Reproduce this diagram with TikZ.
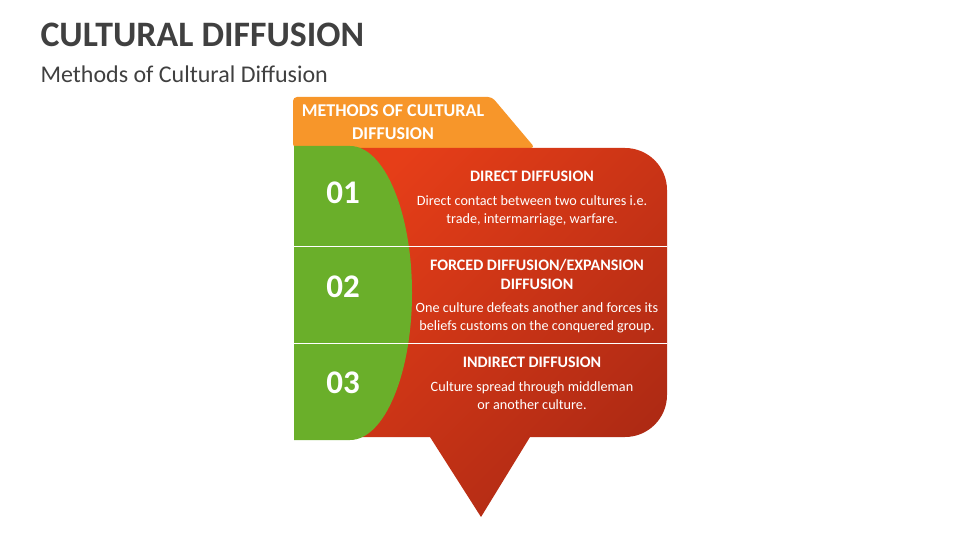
\documentclass[tikz,border=0pt]{standalone}
\usepackage{fontspec}
\setmainfont{Carlito}
\begin{document}
\begin{tikzpicture}[x=1pt,y=-1pt,
  hd/.style={text=white,font=\bfseries\fontsize{16}{19}\selectfont,align=center},
  bd/.style={text=white,font=\fontsize{14.2}{18}\selectfont,align=center},
  num/.style={text=white,font=\bfseries\fontsize{33}{35}\selectfont}]
\useasboundingbox (0,0) rectangle (960,540);
\definecolor{gr}{HTML}{6AAF2A}
\definecolor{rd}{HTML}{E63E18}
\definecolor{dr}{HTML}{AE2A14}
\definecolor{og}{HTML}{F7962A}
\node[anchor=west,text=black!75,font=\bfseries\fontsize{35.8}{38}\selectfont] (t) at (37,35) {CULTURAL DIFFUSION};
\node[anchor=west,text=black!75,font=\fontsize{24}{26}\selectfont] (s) at (37,74) {Methods of Cultural Diffusion};
% orange tab
\fill[og,rounded corners=4] (293,148) -- (293,97) -- (492,97) -- (535,148) -- cycle;
\node[text=white,font=\bfseries\fontsize{18}{23}\selectfont,align=center] (tab) at (393,122) {METHODS OF CULTURAL\\DIFFUSION};
% red shape
\shade[left color=rd,right color=dr,shading angle=45]
  (300,148) -- (625,148) arc[start angle=-90,end angle=0,radius=42] -- (667,395)
  arc[start angle=0,end angle=90,radius=42] -- (530,437) -- (481,517) -- (430,437) -- (300,437) -- cycle;
% green
\fill[gr] (294,146) -- (350,146) arc[start angle=-90,end angle=90,x radius=62,y radius=147] -- (294,440) -- cycle;
% separators
\draw[white,line width=1pt] (294,246) -- (667,246) (294,343) -- (667,343);
\node[num] (n1) at (343,193) {01};
\node[num] (n2) at (343,287) {02};
\node[num] (n3) at (343,383) {03};
\node[hd] (h1) at (532,176) {DIRECT DIFFUSION};
\node[bd] (b1) at (532,211) {Direct contact between two cultures i.e.\\trade, intermarriage, warfare.};
\node[hd] (h2) at (537,274) {FORCED DIFFUSION/EXPANSION\\DIFFUSION};
\node[bd] (b2) at (537,318) {One culture defeats another and forces its\\beliefs customs on the conquered group.};
\node[hd] (h3) at (532,362) {INDIRECT DIFFUSION};
\node[bd] (b3) at (532,396) {Culture spread through middleman\\or another culture.};
\end{tikzpicture}
\end{document}
